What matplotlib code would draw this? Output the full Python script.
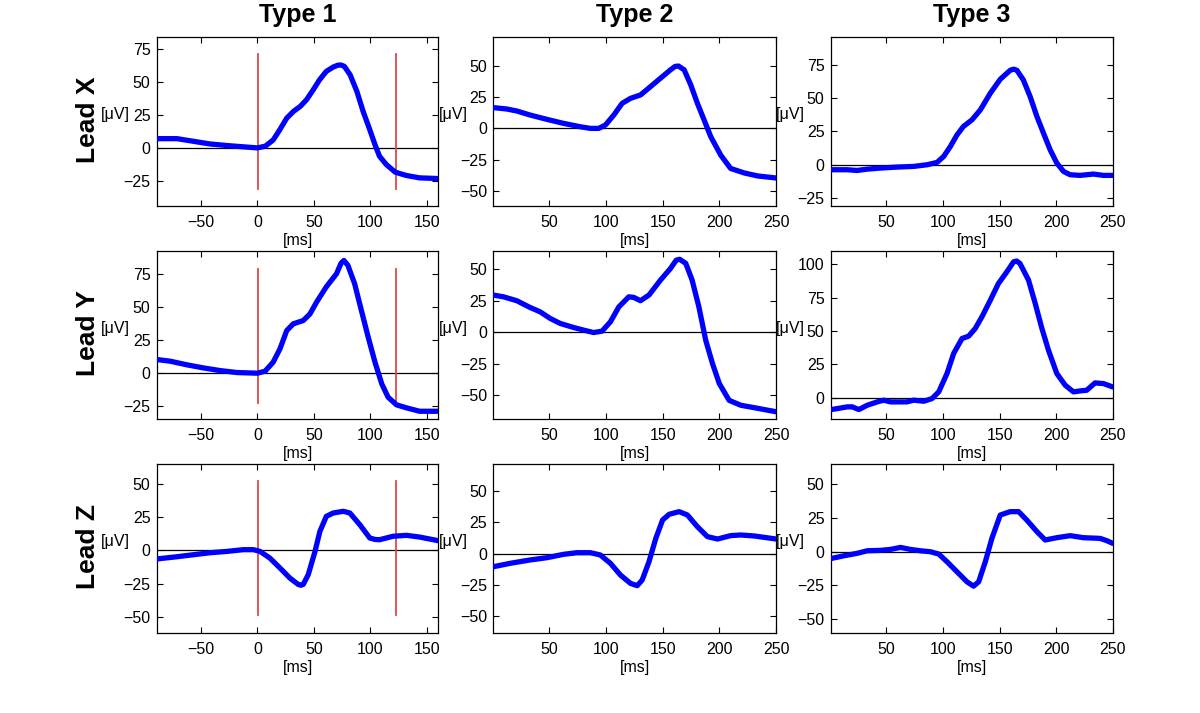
import matplotlib
matplotlib.use("Agg")
import matplotlib.pyplot as plt

plt.rcParams['font.family'] = ['Liberation Sans', 'DejaVu Sans']

col_titles = ["Type 1", "Type 2", "Type 3"]
row_titles = ["Lead X", "Lead Y", "Lead Z"]

# Type 1, Lead X
t1x_t = [-89, -71, -56.5, -42, -27, -12, 0, 7, 14, 20, 26, 32, 38, 43.5, 49.4, 55, 61, 67, 71, 74, 77, 82, 88, 93.5, 99.4, 104, 108, 114, 122, 131.8, 143.5, 159.7]
t1x_v = [7.0, 7.0, 5.0, 3.0, 1.8, 0.8, 0.0, 1.3, 6.0, 14.0, 22.6, 27.7, 31.5, 36.5, 44.0, 51.6, 58.0, 61.2, 62.6, 62.8, 61.7, 55.4, 42.8, 27.7, 13.8, 2.5, -6.3, -12.6, -18.4, -20.9, -22.7, -23.2]
# Type 2, Lead X
t2x_t = [0.7, 12.5, 21.4, 33, 48, 62.7, 77.4, 86.3, 93.7, 99.6, 107, 114.3, 121.7, 130.5, 139.4, 148, 157, 161, 164, 169, 174.8, 180.7, 186.6, 192.5, 201.3, 210, 222, 233.8, 250]
t2x_v = [16.6, 15.5, 13.9, 10.7, 7.2, 4.0, 1.3, 0.0, 0.0, 2.7, 10.7, 20.0, 24.0, 26.7, 33.4, 40.0, 46.8, 49.5, 49.8, 46.8, 34.8, 20.0, 6.7, -6.7, -21.4, -32.0, -35.6, -38.0, -39.6]
# Type 3, Lead X
t3x_t = [1.2, 15.3, 24, 33, 44.7, 59.4, 74, 86, 94.7, 100.6, 106.5, 112.4, 118, 125.6, 133, 141.8, 150.6, 159.4, 162.5, 165.3, 171, 177, 183, 188.8, 194.7, 200.6, 206.5, 212.3, 221, 233, 241.8, 250]
t3x_v = [-3.75, -3.75, -4.3, -3.3, -2.5, -1.75, -1.25, 0.0, 1.75, 6.25, 13.75, 22.5, 28.75, 33.75, 41.25, 53.75, 64.25, 71.0, 71.8, 71.0, 63.75, 51.25, 36.25, 23.75, 11.25, 1.25, -5.0, -7.5, -8.0, -7.0, -8.0, -8.0]

# Type 1, Lead Y
t1y_t = [-89, -77, -62, -47.6, -33, -18, 0, 6.8, 14, 20, 26, 31.8, 40.6, 46.5, 52.4, 61, 70, 74, 76.5, 80, 86, 92, 98, 104, 110, 115.6, 123, 131.8, 143.5, 159.7]
t1y_v = [10.4, 9.1, 6.3, 4.0, 2.0, 0.5, 0.0, 1.5, 8.4, 18.5, 32.4, 37.5, 40.0, 45.0, 54.0, 65.6, 75.5, 83.5, 85.6, 82.0, 68.0, 47.6, 27.4, 8.4, -8.1, -18.2, -24.0, -26.3, -28.9, -28.9]
# Type 2, Lead Y
t2y_t = [0.7, 9.6, 21.4, 33, 42, 51, 59.7, 71.5, 80.4, 89.2, 96.6, 104, 111.4, 120.2, 124.6, 130.5, 138, 148.2, 157, 162, 165, 170.4, 176, 182, 188, 194, 200, 208.7, 219, 230.8, 250]
t2y_v = [29.4, 28.0, 24.9, 19.6, 16.1, 10.8, 6.9, 3.7, 1.6, -0.3, 0.8, 8.2, 20.0, 28.0, 27.5, 24.9, 29.4, 41.3, 50.5, 57.0, 57.7, 54.5, 41.3, 20.0, -6.3, -24.9, -40.7, -54.0, -57.9, -59.8, -63.0]
# Type 3, Lead Y
t3y_t = [1.2, 6.5, 15.3, 19.7, 25.6, 33, 41.8, 47.6, 53.5, 68, 74, 83, 90.3, 96.2, 103.5, 109.4, 116.8, 122.6, 128.5, 134.4, 141.8, 149, 156.5, 162.4, 165, 168, 175.6, 181.5, 187.4, 193.2, 200.6, 208, 215.3, 221.2, 227, 234.4, 241.8, 250]
t3y_v = [-8.7, -8.0, -6.7, -6.7, -8.7, -5.5, -3.0, -1.7, -3.0, -3.0, -1.7, -2.5, -0.5, 4.5, 18.2, 33.2, 44.4, 46.1, 51.9, 60.6, 73.0, 85.5, 94.3, 101.7, 102.3, 100.5, 88.0, 70.6, 51.9, 35.7, 18.2, 9.5, 4.5, 5.2, 5.7, 11.2, 10.7, 8.2]

# Type 1, Lead Z
t1z_t = [-89, -71, -56.5, -41.8, -27, -12.4, -3.5, 2.4, 11, 20, 28.8, 36, 38.5, 40.6, 45, 51, 55.3, 61, 67, 76, 81.8, 90.6, 99.4, 104, 108, 120, 131.8, 143.5, 159.7]
t1z_v = [-6.5, -4.8, -3.3, -1.8, -0.8, 0.5, 0.5, -0.8, -5.8, -13.3, -20.9, -25.6, -26.3, -25.6, -18.3, -0.8, 14.3, 25.6, 28.1, 29.4, 28.1, 19.3, 9.3, 8.2, 8.0, 10.6, 11.3, 10.0, 7.3]
# Type 2, Lead Z
t2z_t = [0.7, 15.5, 33.2, 48, 62.7, 74.5, 86.3, 95, 104, 112.8, 121.7, 127.6, 132, 138, 144, 150, 155.8, 164.5, 171.8, 180.7, 189.5, 198.4, 210, 219, 231, 250]
t2z_v = [-10.4, -7.7, -5.0, -3.2, -0.5, 0.8, 0.8, -1.0, -7.7, -17.0, -23.7, -25.5, -21.0, -6.4, 12.2, 26.9, 31.4, 33.5, 30.9, 21.5, 13.6, 11.7, 14.4, 14.9, 14.1, 11.7]
# Type 3, Lead Z
t3z_t = [1.2, 12.4, 24, 33, 44.7, 53.5, 62.4, 71.2, 80, 88.8, 96.2, 103.5, 112.4, 121.2, 127, 131.5, 137.4, 143.2, 150.6, 159.4, 166.8, 174, 183, 190.3, 200.6, 212.4, 224, 238.8, 244.7, 250]
t3z_v = [-5.0, -3.0, -1.2, 0.7, 1.0, 1.7, 3.2, 1.7, 0.7, 0.0, -1.7, -7.4, -14.9, -22.3, -25.5, -22.3, -7.4, 9.9, 27.2, 29.7, 29.7, 23.5, 14.9, 8.7, 10.4, 11.9, 10.4, 9.9, 8.2, 6.2]

series = [
    [(t1x_t, t1x_v), (t2x_t, t2x_v), (t3x_t, t3x_v)],
    [(t1y_t, t1y_v), (t2y_t, t2y_v), (t3y_t, t3y_v)],
    [(t1z_t, t1z_v), (t2z_t, t2z_v), (t3z_t, t3z_v)],
]

# Red marker lines (Type 1 only): positions and vertical extents per lead
marker_t = [0.6, 122.8]
marker_lo = [-31, -23, -49]
marker_hi = [71, 79, 52.5]

xlims = [(-89, 160), (0.7, 250), (0.7, 250)]
xticks = [[-50, 0, 50, 100, 150], [50, 100, 150, 200, 250], [50, 100, 150, 200, 250]]
ylims = [
    [(-44, 84), (-62, 73), (-31, 96)],
    [(-35, 93), (-69, 64.5), (-16, 110)],
    [(-62, 65), (-63, 71.5), (-60, 65)],
]
yticks = [
    [[-25, 0, 25, 50, 75], [-50, -25, 0, 25, 50], [-25, 0, 25, 50, 75]],
    [[-25, 0, 25, 50, 75], [-50, -25, 0, 25, 50], [0, 25, 50, 75, 100]],
    [[-50, -25, 0, 25, 50], [-50, -25, 0, 25, 50], [-50, -25, 0, 25, 50]],
]

W, H = 1200, 713
fig = plt.figure(figsize=(12, 7.13), dpi=100)

col_left = [156.7, 493.3, 830.7]
col_right = [438.3, 776.0, 1112.7]
row_top = [37.0, 250.7, 464.0]
row_bot = [206.0, 419.3, 632.7]
uv_x = [115.5, 453.0, 790.0]

for r in range(3):
    for c in range(3):
        l = col_left[c] / W
        b = 1 - row_bot[r] / H
        w = (col_right[c] - col_left[c]) / W
        h = (row_bot[r] - row_top[r]) / H
        ax = fig.add_axes([l, b, w, h])
        t, v = series[r][c]
        ax.axhline(0, color='black', lw=0.9, zorder=1)
        if c == 0:
            for mt in marker_t:
                ax.plot([mt, mt], [marker_lo[r], marker_hi[r]], color='#e04848', lw=1.3, zorder=2)
        ax.plot(t, v, color='#0000ff', lw=3.8, solid_joinstyle='round', solid_capstyle='round', zorder=3)
        ax.set_xlim(*xlims[c])
        ax.set_ylim(*ylims[r][c])
        ax.set_xticks(xticks[c])
        ax.set_yticks(yticks[r][c])
        ax.set_yticklabels([str(y).replace('-', '\u2212') for y in yticks[r][c]])
        ax.set_xticklabels([str(x).replace('-', '\u2212') for x in xticks[c]])
        ax.tick_params(direction='in', top=True, right=True, length=4, width=0.8,
                       labelsize=11.5)
        ax.tick_params(axis='x', pad=6.5)
        ax.tick_params(axis='y', pad=4.5)
        for s in ax.spines.values():
            s.set_linewidth(0.9)
        ax.set_xlabel('[ms]', fontsize=11.5, labelpad=2)
        ycen = (row_top[r] + row_bot[r]) / 2 - 7
        fig.text(uv_x[c] / W, 1 - ycen / H, '[\u03bcV]', fontsize=11.5,
                 ha='center', va='center')

for c in range(3):
    xc = (col_left[c] + col_right[c]) / 2
    fig.text(xc / W, 1 - 22 / H, col_titles[c], fontsize=18, fontweight='bold',
             ha='center', va='baseline')

for r in range(3):
    yc = (row_top[r] + row_bot[r]) / 2 - 2
    fig.text(88 / W, 1 - yc / H, row_titles[r], fontsize=19, fontweight='bold',
             rotation=90, ha='center', va='center')

fig.savefig('out.png', dpi=100)
